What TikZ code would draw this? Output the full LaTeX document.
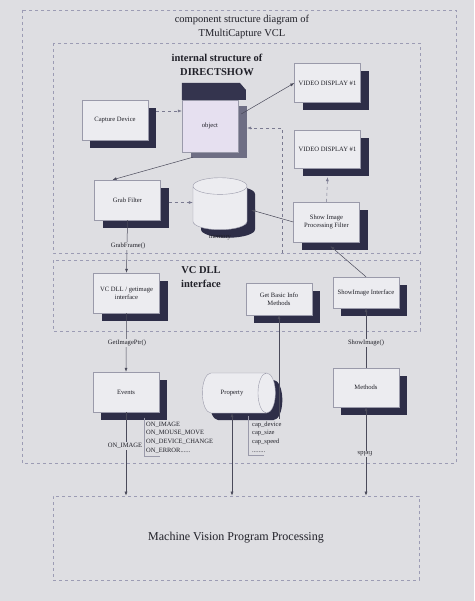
\documentclass[tikz,border=0pt]{standalone}
\usepackage{fontspec}
\setmainfont{Liberation Serif}
\usepackage{tikz}
\usetikzlibrary{arrows.meta, positioning, shapes.geometric, shadows}

\definecolor{bgc}{HTML}{DEDEE2}
\definecolor{boxc}{HTML}{ECECF0}
\definecolor{boxline}{HTML}{9A9AAA}
\definecolor{shadowc}{HTML}{2E2E48}
\definecolor{framec}{HTML}{9C9CB4}
\definecolor{connc}{HTML}{4A4A5A}
\definecolor{dconnc}{HTML}{7A7A90}
\definecolor{textc}{HTML}{202028}
\definecolor{objc}{HTML}{E6E0F0}
\definecolor{objside}{HTML}{6E6E84}
\definecolor{topc}{HTML}{34344E}

\begin{document}
\begin{tikzpicture}[x=1pt,y=-1pt,
  every node/.style={font=\fontsize{6.6}{8.2}\selectfont,text=textc},
  shbox/.style={draw=boxline,fill=boxc,minimum width=66pt,minimum height=40pt,
    align=center,inner sep=1pt,
    drop shadow={shadow xshift=8pt,shadow yshift=-8pt,fill=shadowc,opacity=1}},
  frame/.style={draw=framec,dashed,line width=0.6pt},
  conn/.style={draw=connc,line width=0.5pt,-{Latex[length=4pt,width=3pt]}},
  dconn/.style={conn,draw=dconnc,dashed},
  lbl/.style={fill=bgc,inner sep=1pt}]

  \fill[bgc] (0,0) rectangle (474,601);
  \useasboundingbox (0,0) rectangle (474,601);

  % frames
  \draw[frame] (22,10) rectangle (456,463);
  \draw[frame] (53,43) rectangle (420,253);
  \draw[frame] (53,260) rectangle (420,331);

  \node[font=\fontsize{10.5}{13.5}\selectfont,align=center] (title) at (242,27)
    {component structure diagram of\\TMultiCapture VCL};
  \node[font=\bfseries\fontsize{10.5}{14}\selectfont,align=center] (dstitle) at (217,65)
    {internal structure of\\DIRECTSHOW};
  \node[font=\bfseries\fontsize{10.5}{14}\selectfont,align=center] (vctitle) at (201,277)
    {VC DLL\\interface};

  % boxes with shadow
  \foreach \n/\x/\y/\h/\t in {cap/115/120/40/Capture Device,
      vdA/327.5/83/39/VIDEO DISPLAY \#1,
      vdB/327.5/149/38/VIDEO DISPLAY \#1,
      grab/127.5/200/40/Grab Filter,
      spf/326.5/222/40/{Show Image\\Processing Filter},
      vcdll/126.5/293/40/{VC DLL / getimage\\interface},
      gbi/279/299/32/{Get Basic Info\\Methods},
      sii/366/292.5/31/ShowImage Interface,
      evt/126/392/40/Events,
      meth/366/387.5/39/Methods}{
    \node[shbox,minimum height=\h pt] (\n) at (\x,\y) {\t};
  }

  % directshow object
  \node[draw=boxline,fill=objc,minimum width=56pt,minimum height=52pt,
    drop shadow={shadow xshift=9pt,shadow yshift=-6pt,fill=objside,opacity=1}]
    (obj) at (210,126) {object};
  \fill[topc] (obj.north west) -- ++(0,-17) -- ++(58,0) -- ++(6,7) -- ++(0,10) -- cycle;

  % cylinders
  \node[cylinder,shape border rotate=90,aspect=2.5,draw=boxline,fill=boxc,
    minimum width=54pt,minimum height=52pt,
    drop shadow={shadow xshift=8pt,shadow yshift=-8pt,fill=shadowc,opacity=1}]
    (mem) at (220,210) {};
  \node (memlbl) at (220,238) {memory};
  \node[cylinder,aspect=1.4,draw=boxline,fill=boxc,
    minimum width=40pt,minimum height=73pt,
    drop shadow={shadow xshift=7pt,shadow yshift=-7pt,fill=shadowc,opacity=1}]
    (prop) at (232,393) {Property};

  % lists
  \node[anchor=north west,align=left,inner sep=0pt,font=\fontsize{6.5}{8.7}\selectfont]
    (evlist) at (146,421.5) {ON\_IMAGE\\ON\_MOUSE\_MOVE\\ON\_DEVICE\_CHANGE\\ON\_ERROR......};
  \draw[boxline] ([xshift=-2pt,yshift=4pt]evlist.north west)
    -- ([xshift=-2pt,yshift=-3pt]evlist.south west) -- ++(16,0);
  \node[anchor=north west,align=left,inner sep=0pt,font=\fontsize{6.5}{8.7}\selectfont]
    (proplist) at (252,421.5) {cap\_device\\cap\_size\\cap\_speed\\........};
  \draw[boxline] ([xshift=-4pt,yshift=6pt]proplist.north west)
    -- ([xshift=-4pt,yshift=-3pt]proplist.south west) -- ++(16,0);

  \node[draw=framec,dashed,line width=0.6pt,minimum width=366pt,minimum height=84pt,
    font=\fontsize{12}{14}\selectfont] (mvp) at (236,538) {Machine Vision Program Processing};

  % connectors
  \draw[dconn] ([xshift=8pt,yshift=9pt]cap.east) -- ([yshift=15pt]obj.west);
  \draw[conn] ([xshift=3pt,yshift=12pt]obj.east) -- (vdA.west);
  \coordinate (fb) at (282,253);
  \draw[dconn] (fb) |- ([xshift=9pt,yshift=-2pt]obj.east);
  \draw[conn] ([xshift=-17pt,yshift=-5pt]obj.south) -- ([xshift=-15pt]grab.north);
  \draw[dconn] ([xshift=8pt,yshift=-2.5pt]grab.east) -- ([yshift=7.5pt]mem.west);
  \draw[conn] (spf.west) -- ([xshift=4pt]mem.east);
  \draw[dconn] (spf.north) -- ([yshift=-9pt]vdB.south);
  \draw[conn] (sii.north) -- ([xshift=4pt,yshift=-4pt]spf.south);
  \draw[conn] (grab.south) -- (vcdll.north);
  \node[lbl] (gf) at (128,246) {GrabFrame()};
  \draw[conn] (vcdll.south) -- (evt.north);
  \node[lbl] (gip) at (127,343) {GetImagePtr()};
  \coordinate (gbiend) at (280,419);
  \draw[conn] (gbi.south |- gbiend) -- (gbi.south);
  \draw[conn] (meth.north) -- (sii.south);
  \node[lbl] (si) at (366,343) {ShowImage()};
  \draw[conn] (evt.south) -- (evt.south |- mvp.north);
  \node[lbl] (onimg) at (125,446) {ON\_IMAGE};
  \draw[conn,{Latex[length=4pt,width=3pt]}-{Latex[length=4pt,width=3pt]}]
    (prop.south) -- (prop.south |- mvp.north);
  \draw[conn,{Latex[length=4pt,width=3pt]}-{Latex[length=4pt,width=3pt]}]
    (meth.south) -- (meth.south |- mvp.north);
  \node[lbl,rotate=180] (fld) at (365,454) {fields};
\end{tikzpicture}
\end{document}
